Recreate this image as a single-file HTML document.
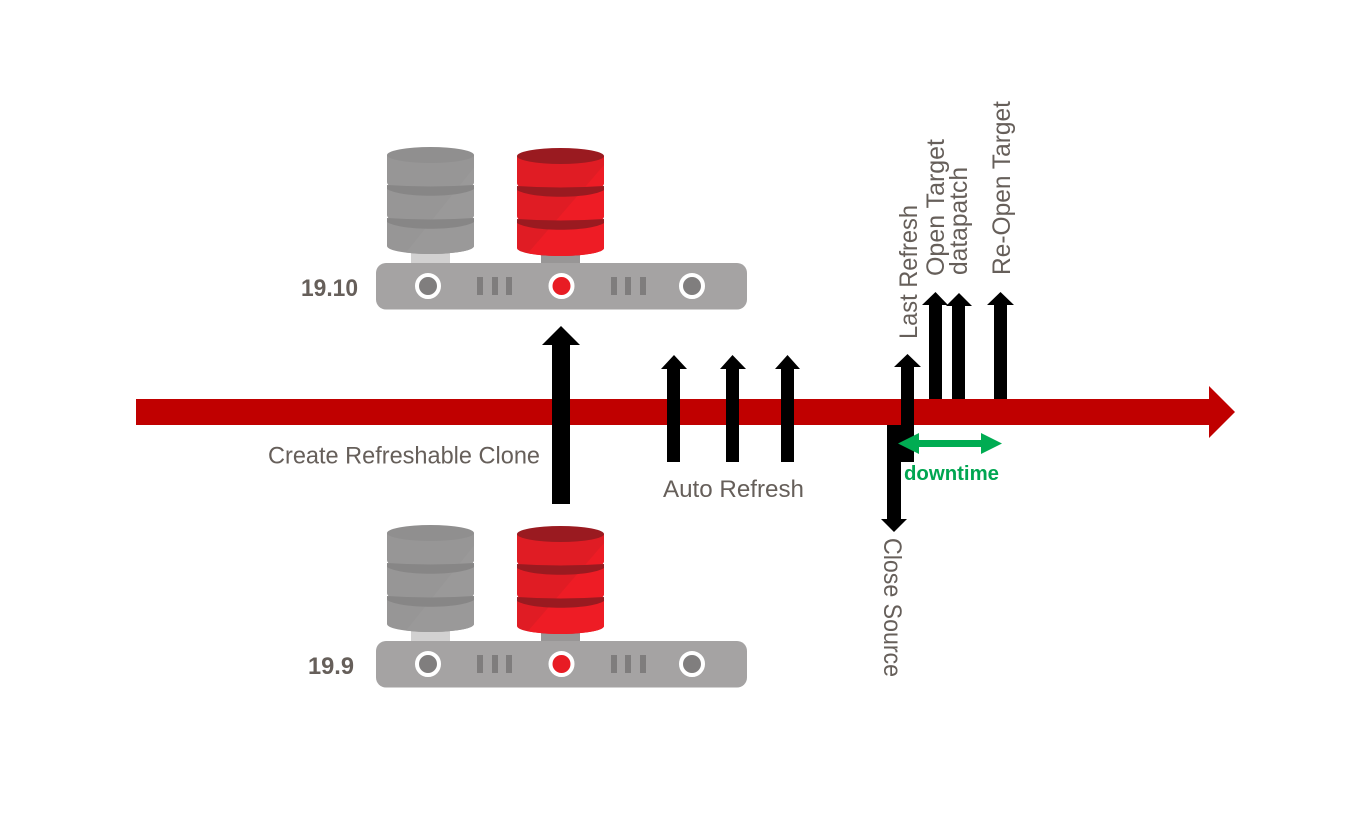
<!DOCTYPE html>
<html>
<head>
<meta charset="utf-8">
<style>
html,body{margin:0;padding:0;background:#fff;width:1369px;height:830px;overflow:hidden}
svg{display:block}
text{font-family:"Liberation Sans",sans-serif;fill:#665f5a}
</style>
</head>
<body>
<svg width="1369" height="830" viewBox="0 0 1369 830" xmlns="http://www.w3.org/2000/svg">
<defs>
<clipPath id="rc"><path d="M517 156 V183 Q517 185 519 186.500 Q517 188 517 189 V216 Q517 218 519 219.500 Q517 221 517 222 V248 C517 253 540 256 560.500 256 C581 256 604 253 604 248 V222 Q604 221 602 219.500 Q604 218 604 216 V189 Q604 188 602 186.500 Q604 185 604 183 V156 Z"/></clipPath>
<clipPath id="gc"><path d="M387 155 V182 Q387 184 389 185.500 Q387 187 387 188 V215 Q387 217 389 218.500 Q387 220 387 221 V246 C387 251 410 254 430.500 254 C451 254 474 251 474 246 V221 Q474 220 472 218.500 Q474 217 474 215 V188 Q474 187 472 185.500 Q474 184 474 182 V155 Z"/></clipPath>
<g id="srv">
<rect x="411" y="250" width="39" height="14" fill="#d2d1d1"/>
<rect x="541" y="250" width="39" height="14" fill="#989696"/>
<!-- gray db -->
<g clip-path="url(#gc)">
<rect x="380" y="140" width="100" height="120" fill="#979696"/>
<polygon points="480,160 400,260 480,260" fill="#9a9999"/>
</g>
<ellipse cx="430.500" cy="155" rx="43.500" ry="8" fill="#908f8f"/>
<path d="M387 185 Q430.500 188 474 185 V189 C460 198 401 198 387 189 Z" fill="#878686"/>
<path d="M387 218 Q430.500 221 474 218 V222 C460 231 401 231 387 222 Z" fill="#878686"/>
<!-- red db -->
<g clip-path="url(#rc)">
<rect x="510" y="140" width="100" height="120" fill="#e01c24"/>
<polygon points="610,158 522,260 610,260" fill="#ee1c25"/>
</g>
<ellipse cx="560.500" cy="156" rx="43.500" ry="8" fill="#9a1a20"/>
<path d="M517 186 Q560.500 189 604 186 V190 C590 199 531 199 517 190 Z" fill="#9a1a20"/>
<path d="M517 219 Q560.500 222 604 219 V223 C590 232 531 232 517 223 Z" fill="#9a1a20"/>
<!-- plate -->
<rect x="376" y="263" width="371" height="46.500" rx="10" fill="#a5a3a3"/>
<circle cx="428" cy="286" r="11" fill="#807e7e" stroke="#fff" stroke-width="4"/>
<circle cx="561.500" cy="286" r="11" fill="#e81c24" stroke="#fff" stroke-width="4"/>
<circle cx="692" cy="286" r="11" fill="#807e7e" stroke="#fff" stroke-width="4"/>
<g fill="#7f7d7d">
<rect x="477" y="277" width="6" height="18"/><rect x="492" y="277" width="6" height="18"/><rect x="506" y="277" width="6" height="18"/>
<rect x="611" y="277" width="6" height="18"/><rect x="625" y="277" width="6" height="18"/><rect x="640" y="277" width="6" height="18"/>
</g>
</g>
</defs>

<use href="#srv"/>
<use href="#srv" transform="translate(0,378)"/>

<!-- main timeline -->
<polygon points="136,399 1209,399 1209,386 1235,412 1209,438 1209,425 136,425" fill="#c00000"/>

<!-- black arrows -->
<g fill="#000">
<polygon points="552,504 552,345 542,345 561,326 580,345 570,345 570,504"/>
<polygon points="667,462 667,369 661,369 674,355 687,369 680,369 680,462"/>
<polygon points="726,462 726,369 720,369 732.500,355 746,369 739,369 739,462"/>
<polygon points="781,462 781,369 775,369 787.500,355 800,369 794,369 794,462"/>
<polygon points="901,462 901,367 894,367 907.500,354 921,367 914,367 914,462"/>
<polygon points="929,399 929,305 922,305 935.500,292 948,305 942,305 942,399"/>
<polygon points="952,399 952,306 946,306 959,293 972,306 965,306 965,399"/>
<polygon points="994,399 994,305 987,305 1000.500,292 1014,305 1007,305 1007,399"/>
<polygon points="887,425 887,519 881,519 894,532 907,519 901,519 901,425"/>
</g>

<!-- downtime arrow -->
<polygon points="898,443.500 919,433 919,440 981,440 981,433 1002,443.500 981,454 981,447 919,447 919,454" fill="#00ac52"/>

<!-- labels -->
<text x="301" y="296" font-size="24" font-weight="bold" textLength="57" lengthAdjust="spacingAndGlyphs">19.10</text>
<text x="308" y="674" font-size="24" font-weight="bold" textLength="46" lengthAdjust="spacingAndGlyphs">19.9</text>
<text x="268" y="463.500" font-size="24" textLength="272" lengthAdjust="spacingAndGlyphs">Create Refreshable Clone</text>
<text x="663" y="497" font-size="24" textLength="141" lengthAdjust="spacingAndGlyphs">Auto Refresh</text>
<text x="904" y="480" font-size="20" font-weight="bold" style="fill:#00a651" textLength="95" lengthAdjust="spacingAndGlyphs">downtime</text>
<text transform="translate(917,339) rotate(-90)" font-size="25" textLength="134" lengthAdjust="spacingAndGlyphs">Last Refresh</text>
<text transform="translate(944,276) rotate(-90)" font-size="25" textLength="137" lengthAdjust="spacingAndGlyphs">Open Target</text>
<text transform="translate(967,275) rotate(-90)" font-size="25" textLength="108" lengthAdjust="spacingAndGlyphs">datapatch</text>
<text transform="translate(1010,275) rotate(-90)" font-size="25" textLength="174" lengthAdjust="spacingAndGlyphs">Re-Open Target</text>
<text transform="translate(884,538) rotate(90)" font-size="25" textLength="139" lengthAdjust="spacingAndGlyphs">Close Source</text>
</svg>
</body>
</html>
